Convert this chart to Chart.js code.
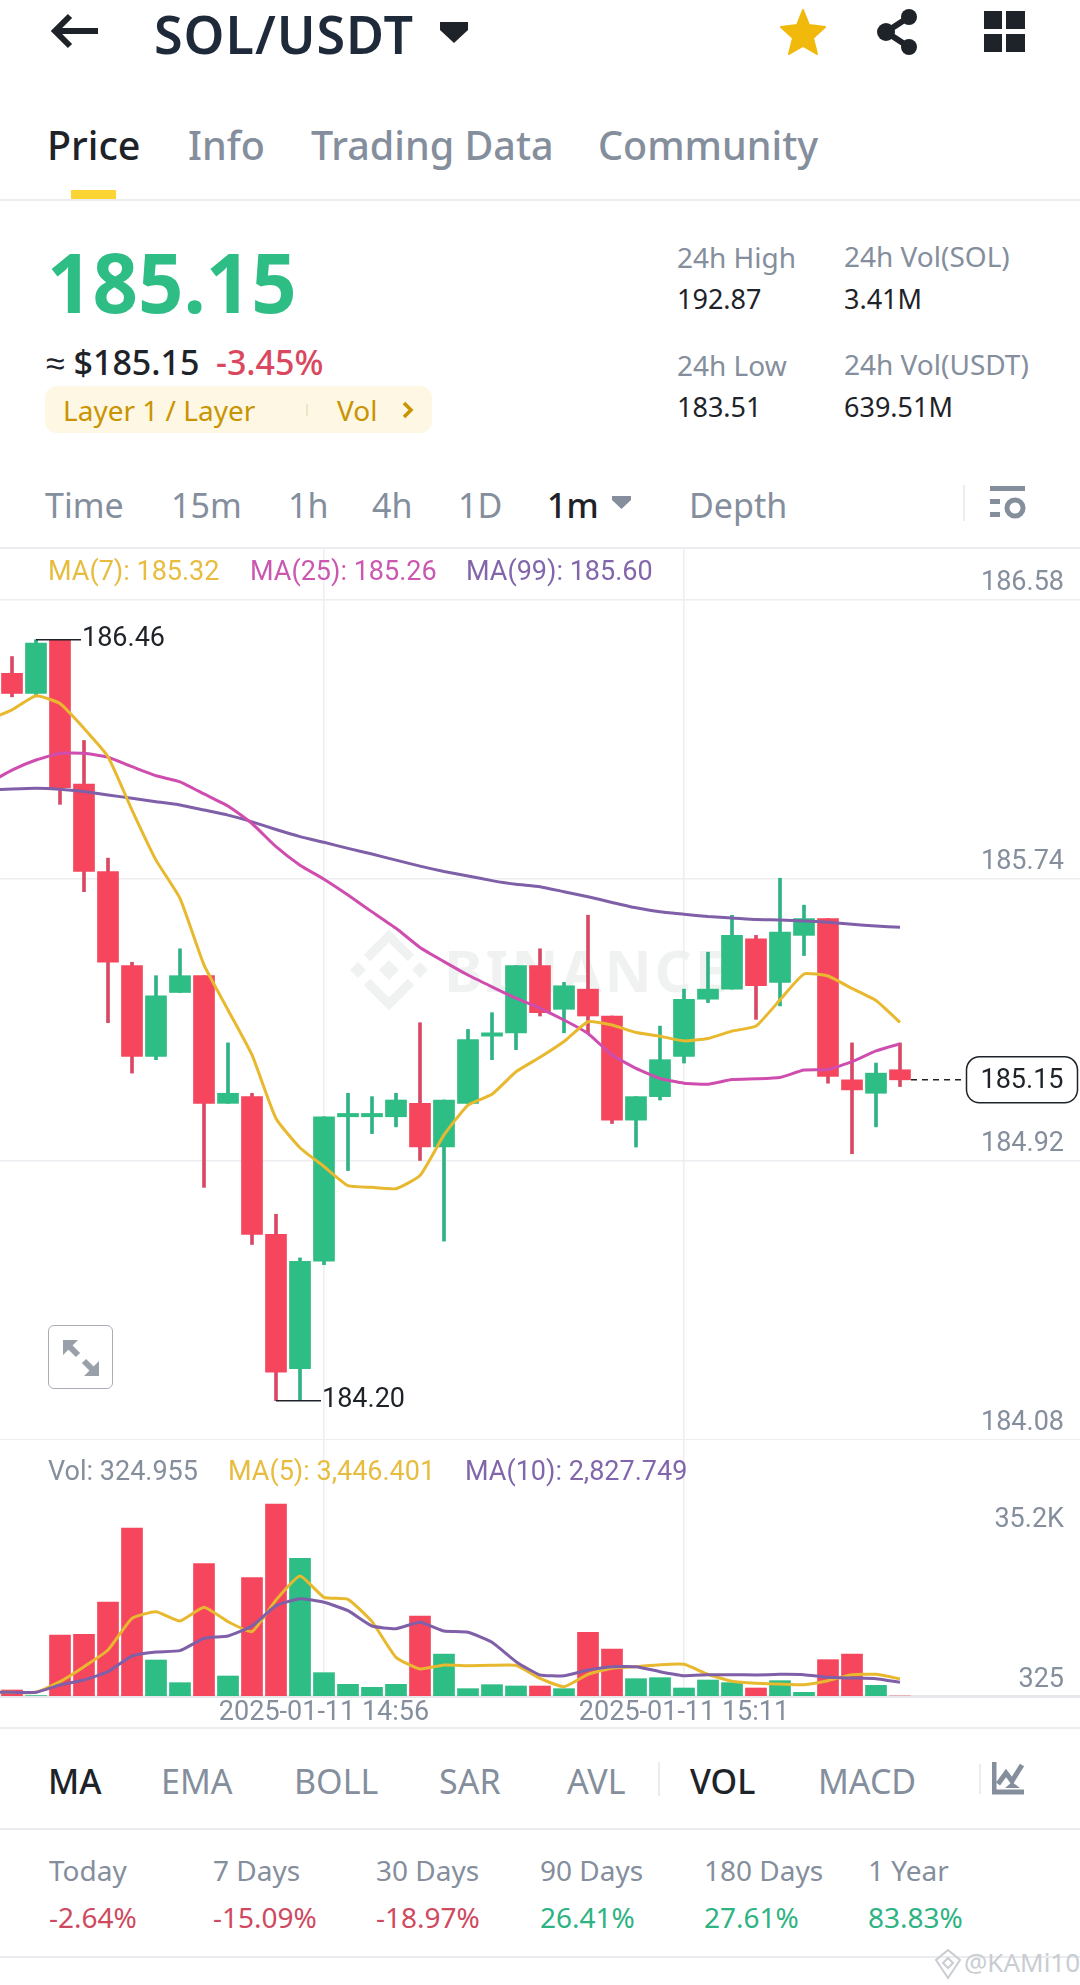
<!DOCTYPE html>
<html>
<head>
<meta charset="utf-8">
<style>
html, body { margin: 0; padding: 0; background: #fff; }
#page { position: relative; width: 1080px; height: 1985px; overflow: hidden; font-family: "Noto Sans", sans-serif; color: #1E2329; }
.t { position: absolute; white-space: nowrap; line-height: 1; transform: translateY(-50%); }
.g { color: #848E9C; }
.tab { font-size: 39.5px; font-weight: 500; top: 146px; }
.range { font-size: 34px; top: 505px; color: #848E9C; }
.tool { font-size: 34px; top: 1781px; color: #848E9C; }
.stat { font-size: 28px; color: #848E9C; }
.num { font-size: 27px; }
.per { font-size: 28px; top: 1870px; color: #848E9C; }
.val { font-size: 28px; top: 1917px; }
.rd { color: #CF4A60; }
.gr { color: #2EB383; }
.leg { font-family: Roboto, sans-serif; font-size: 27px; }
.line { position: absolute; left: 0; width: 1080px; height: 2px; background: #EAECEF; }
canvas { position: absolute; }
svg { position: absolute; }
#mark { position: absolute; left: 350px; top: 930px; }
#markText { position: absolute; left: 444px; top: 970px; transform: translateY(-50%); font: 700 58px "Noto Sans", sans-serif; letter-spacing: 3px; color: #F0F2F2; line-height: 1; }
</style>
</head>
<body>
<div id="page">
  <!-- header -->
  <svg style="left:50px;top:12px" width="50" height="38" viewBox="0 0 50 38"><path d="M48 19H6M20 4 5 19l15 15" fill="none" stroke="#1E2329" stroke-width="6"/></svg>
  <div class="t" style="left:154px;top:34px;font-size:52px;font-weight:600;letter-spacing:1px;color:#1E2A3A">SOL/USDT</div>
  <svg style="left:440px;top:22px" width="28" height="21"><path d="M0 0H28V8L14 21 0 8Z" fill="#1E2329"/></svg>
  <svg style="left:780px;top:8px" width="46" height="48" viewBox="0 0 46 48"><path d="M23 2 29 17 45 19 33 30 37 46 23 38 9 46 13 30 1 19 17 17Z" fill="#F0B90B" stroke="#F0B90B" stroke-linejoin="round" stroke-width="2"/></svg>
  <svg style="left:876px;top:8px" width="46" height="48"><path d="M33 9 10 24 33 39" fill="none" stroke="#1E2329" stroke-width="6"/><circle cx="33" cy="9" r="8" fill="#1E2329"/><circle cx="10" cy="24" r="9" fill="#1E2329"/><circle cx="33" cy="39" r="8" fill="#1E2329"/></svg>
  <svg style="left:984px;top:11px" width="41" height="41"><path d="M0 0H18V18H0ZM22 0H41V18H22ZM0 23H18V41H0ZM22 23H41V41H22Z" fill="#1E2329"/></svg>

  <!-- tabs -->
  <div class="t tab" style="left:47px">Price</div>
  <div class="t tab g" style="left:188px">Info</div>
  <div class="t tab g" style="left:311px">Trading Data</div>
  <div class="t tab g" style="left:598px">Community</div>
  <div style="position:absolute;left:71px;top:190px;width:45px;height:9px;background:#FCD535"></div>
  <div class="line" style="top:199px"></div>

  <!-- price block -->
  <div class="t" style="left:47px;top:281px;font-size:82px;font-weight:700;color:#2EBD85;transform:translateY(-50%) scaleX(.97);transform-origin:left center">185.15</div>
  <div class="t" style="left:46px;top:362px;font-size:34px;font-weight:500">≈ $185.15</div>
  <div class="t" style="left:216px;top:362px;font-size:34px;font-weight:500;color:#D9485F">-3.45%</div>
  <div style="position:absolute;left:45px;top:386px;width:387px;height:47px;background:#FDF7E4;border-radius:12px"></div>
  <div class="t" style="left:63px;top:410px;font-size:28px;color:#C99400">Layer 1 / Layer</div>
  <div style="position:absolute;left:306px;top:404px;width:2px;height:12px;background:#EFE6C8"></div>
  <div class="t" style="left:337px;top:410px;font-size:28px;color:#C99400">Vol</div>
  <svg style="left:402px;top:401px" width="12" height="18"><path d="M2 2 9 9 2 16" fill="none" stroke="#C99400" stroke-width="3.5"/></svg>

  <div class="t stat" style="left:677px;top:257px">24h High</div>
  <div class="t stat" style="left:844px;top:256px">24h Vol(SOL)</div>
  <div class="t num" style="left:677px;top:298px">192.87</div>
  <div class="t num" style="left:844px;top:298px">3.41M</div>
  <div class="t stat" style="left:677px;top:365px">24h Low</div>
  <div class="t stat" style="left:844px;top:364px">24h Vol(USDT)</div>
  <div class="t num" style="left:677px;top:406px">183.51</div>
  <div class="t num" style="left:844px;top:406px">639.51M</div>

  <!-- interval row -->
  <div class="t range" style="left:45px">Time</div>
  <div class="t range" style="left:171px">15m</div>
  <div class="t range" style="left:288px">1h</div>
  <div class="t range" style="left:372px">4h</div>
  <div class="t range" style="left:458px">1D</div>
  <div class="t range" style="left:547px;color:#1E2329;font-weight:500">1m</div>
  <svg style="left:612px;top:496px" width="19" height="13"><path d="M0 0H19V4L9.5 13 0 4Z" fill="#848E9C"/></svg>
  <div class="t range" style="left:689px">Depth</div>
  <div style="position:absolute;left:963px;top:485px;width:2px;height:36px;background:#EAECEF"></div>
  <svg style="left:989px;top:485px" width="38" height="37"><path d="M1 1H36V6H1ZM1 14H11V19H1ZM1 27H11V32H1Z" fill="#848E9C"/><circle cx="26" cy="23" r="8" fill="none" stroke="#848E9C" stroke-width="5"/></svg>
  <div class="line" style="top:547px"></div>

  <!-- chart area -->
  <svg id="mark" width="78" height="80" viewBox="0 0 78 80"><g fill="none" stroke="#F0F2F2" stroke-width="9"><path d="M17 28 39 6 61 28M17 52 39 74 61 52"/></g><path d="M39 30 49 40 39 50 29 40ZM8 32 16 40 8 48 0 40ZM70 32 78 40 70 48 62 40Z" fill="#F0F2F2"/></svg>
  <div id="markText">BINANCE</div>
  <canvas id="priceChart" width="1104" height="892" style="left:-23.6px;top:548px"></canvas>
  <canvas id="volChart" width="1104" height="288" style="left:-23.6px;top:1440px"></canvas>

  <div class="t leg" style="left:48px;top:571px;color:#E7BC3F">MA(7): 185.32</div>
  <div class="t leg" style="left:250px;top:571px;color:#CB58B0">MA(25): 185.26</div>
  <div class="t leg" style="left:466px;top:571px;color:#8266AB">MA(99): 185.60</div>
  <div class="t leg" style="left:48px;top:1471px;color:#848E9C">Vol: 324.955</div>
  <div class="t leg" style="left:228px;top:1471px;color:#E7BC3F">MA(5): 3,446.401</div>
  <div class="t leg" style="left:465px;top:1471px;color:#8266AB">MA(10): 2,827.749</div>

  <div style="position:absolute;left:48px;top:1325px;width:63px;height:62px;border:1.5px solid #A9AEB6;border-radius:6px;background:#fff"></div>
  <svg style="left:62px;top:1339px" width="38" height="38"><path d="M1 1H16L1 16ZM37 37H22L37 22Z" fill="#9AA0AA"/><path d="M7 7 16 16M31 31 22 22" stroke="#9AA0AA" stroke-width="6" fill="none"/></svg>

  <div class="line" style="top:1727px"></div>

  <!-- indicators row -->
  <div class="t tool" style="left:48px;color:#1E2329;font-weight:500">MA</div>
  <div class="t tool" style="left:161px">EMA</div>
  <div class="t tool" style="left:294px">BOLL</div>
  <div class="t tool" style="left:439px">SAR</div>
  <div class="t tool" style="left:567px">AVL</div>
  <div style="position:absolute;left:658px;top:1762px;width:2px;height:34px;background:#EAECEF"></div>
  <div class="t tool" style="left:690px;color:#1E2329;font-weight:500">VOL</div>
  <div class="t tool" style="left:818px">MACD</div>
  <div style="position:absolute;left:979px;top:1764px;width:2px;height:30px;background:#EAECEF"></div>
  <svg style="left:992px;top:1762px" width="33" height="34"><path d="M2 0V30H32" fill="none" stroke="#848E9C" stroke-width="5"/><path d="M6 22 14 11 20 19 30 3" fill="none" stroke="#848E9C" stroke-width="5"/><path d="M13 26H28L20 20Z" fill="#848E9C"/></svg>
  <div class="line" style="top:1828px"></div>

  <!-- period changes -->
  <div class="t per" style="left:49px">Today</div>
  <div class="t per" style="left:213px">7 Days</div>
  <div class="t per" style="left:376px">30 Days</div>
  <div class="t per" style="left:540px">90 Days</div>
  <div class="t per" style="left:704px">180 Days</div>
  <div class="t per" style="left:868px">1 Year</div>
  <div class="t val rd" style="left:49px">-2.64%</div>
  <div class="t val rd" style="left:213px">-15.09%</div>
  <div class="t val rd" style="left:376px">-18.97%</div>
  <div class="t val gr" style="left:540px">26.41%</div>
  <div class="t val gr" style="left:704px">27.61%</div>
  <div class="t val gr" style="left:868px">83.83%</div>
  <div class="line" style="top:1956px"></div>
  <svg style="left:934px;top:1948px" width="28" height="32"><path d="M14 2 26 12 14 30 2 12ZM14 10 19 15 14 20 9 15Z" fill="none" stroke="#C9CDD2" stroke-width="2"/></svg>
  <div class="t" style="left:964px;top:1962px;font-size:26px;color:#C9CDD2">@KAMi10</div>
</div>

<script src="https://cdn.jsdelivr.net/npm/chart.js@4/dist/chart.umd.min.js"></script>
<script>
// one minute per candle, first slot sits just off the left edge
const minutes = ['14:42','14:43','14:44','14:45','14:46','14:47','14:48','14:49','14:50','14:51','14:52','14:53','14:54','14:55','14:56','14:57','14:58','14:59','15:00','15:01','15:02','15:03','15:04','15:05','15:06','15:07','15:08','15:09','15:10','15:11','15:12','15:13','15:14','15:15','15:16','15:17','15:18','15:19','15:20','','','','','','',''];
const labeledMinutes = ['14:56', '15:11'];
const datePrefix = '2025-01-11 ';

const opens = [null,186.36,186.30,186.46,186.03,185.77,185.49,185.22,185.41,185.46,185.08,185.10,184.69,184.29,184.61,185.04,185.04,185.04,185.08,184.95,185.08,185.28,185.29,185.49,185.36,185.42,185.34,185.03,185.10,185.22,185.39,185.42,185.57,185.44,185.58,185.63,185.15,185.11,185.18];
const closes = [null,186.30,186.45,186.02,185.77,185.50,185.22,185.40,185.46,185.08,185.11,184.69,184.28,184.61,185.04,185.05,185.05,185.09,184.95,185.09,185.27,185.29,185.49,185.35,185.43,185.34,185.03,185.10,185.21,185.39,185.42,185.58,185.43,185.59,185.63,185.16,185.12,185.17,185.15];
const highs = [null,186.41,186.46,186.46,186.16,185.81,185.50,185.46,185.54,185.46,185.26,185.11,184.75,184.62,185.04,185.11,185.10,185.11,185.32,185.09,185.30,185.35,185.49,185.54,185.44,185.64,185.34,185.10,185.31,185.42,185.53,185.64,185.58,185.75,185.67,185.63,185.26,185.20,185.26];
const lows = [null,186.29,186.29,185.97,185.71,185.32,185.17,185.21,185.41,184.83,185.08,184.66,184.195,184.195,184.60,184.88,184.99,185.01,184.91,184.67,185.08,185.21,185.24,185.34,185.29,185.29,185.02,184.95,185.09,185.20,185.38,185.42,185.33,185.37,185.52,185.14,184.93,185.01,185.13];

const ma7 = [186.221,186.251,186.293,186.27,186.196,186.112,185.953,185.804,185.69,185.492,185.358,185.224,185.035,184.948,184.892,184.835,184.83,184.826,184.865,184.986,185.075,185.107,185.174,185.217,185.264,185.323,185.313,185.291,185.28,185.266,185.273,185.295,185.31,185.388,185.465,185.459,185.422,185.386,185.321];
const ma25 = [186.032,186.072,186.102,186.122,186.122,186.11,186.082,186.055,186.037,186.001,185.965,185.913,185.844,185.789,185.747,185.70,185.65,185.601,185.544,185.502,185.462,185.427,185.393,185.363,185.328,185.288,185.224,185.184,185.154,185.14,185.137,185.151,185.153,185.157,185.179,185.181,185.204,185.236,185.257];
const ma99 = [186.013,186.016,186.018,186.015,186.008,185.998,185.988,185.978,185.968,185.953,185.938,185.918,185.895,185.874,185.857,185.839,185.822,185.804,185.786,185.77,185.757,185.743,185.732,185.725,185.71,185.695,185.678,185.662,185.65,185.643,185.636,185.632,185.627,185.626,185.623,185.619,185.613,185.608,185.604];

const volumes = [null,1415,400,11406,11527,17400,30842,6864,2747,24363,3958,21820,35200,25332,4564,2444,1899,2444,14857,7954,1657,2384,2142,2142,1657,11890,8863,3474,3655,1778,3231,2747,1778,3110,991,6925,7954,2263,324.955];
const volMa5 = [991,991,991,2929,5653,8681,14433,15644,13949,16431,13828,12011,17763,22123,18248,17885,13828,7349,5230,5956,5835,5896,5896,3534,2020,4261,5351,5653,6017,6077,4261,2989,2626,2505,2384,3110,4200,4261,3446.401];
const volMa10 = [991,991,991,2323,3231,4745,7591,8318,8560,10800,11224,13041,16734,18006,17340,15826,13041,12556,13707,12132,11890,10074,6562,4140,4019,5048,5653,5653,4745,4019,4200,4200,4140,4261,4200,3716,3595,3474,2827.749];

const priceTickValues = [184.08, 184.91, 185.75, 186.58];
const priceTickLabels = ['184.08', '184.92', '185.74', '186.58'];
const lastPrice = 185.15;
const highMark = { minute: '14:44', price: 186.46, text: '186.46' };
const lowMark = { minute: '14:54', price: 184.195, text: '184.20' };

const RED = '#F6465D', GREEN = '#2EBD85', RED_WICK = '#D64A64', GREEN_WICK = '#2EB383';
const GRID = '#EDEEF1', TICK = '#848E9C', INK = '#1E2329';
const tickFont = { family: 'Roboto', size: 27 };

const isUp = (i) => closes[i] >= opens[i];
const candleColors = (up, down) => minutes.map((m, i) => opens[i] == null ? up : (isUp(i) ? up : down));
const noPad = (s) => { s.paddingTop = 0; s.paddingBottom = 0; s.paddingLeft = 0; s.paddingRight = 0; };
const flatY = (s) => { noPad(s); s.width = 0; };

const maLine = (label, data, color, order, yAxisID) => ({
  type: 'line', label, data, borderColor: color, borderWidth: 3, pointRadius: 0, tension: 0.15,
  borderJoinStyle: 'round', order, yAxisID, spanGaps: true
});

const xAxis = (showLabels) => ({
  type: 'category',
  offset: true,
  grid: { offset: false, color: GRID, lineWidth: 1.5, drawTicks: false },
  border: { display: false },
  afterBuildTicks: (s) => {
    s.ticks = labeledMinutes.map(m => ({ value: minutes.indexOf(m) }));
  },
  afterFit: (s) => { noPad(s); s.height = showLabels ? 32 : 0; },
  ticks: {
    display: showLabels, autoSkip: false, maxRotation: 0, padding: 1, color: TICK, font: tickFont,
    callback: function (v) { return datePrefix + this.getLabelForValue(v); }
  }
});

// high / low leaders and the last price tag
const priceMarks = {
  id: 'priceMarks',
  afterDatasetsDraw(chart) {
    const { ctx, scales: { x, y } } = chart;
    ctx.save();
    ctx.font = '27px Roboto';
    ctx.textBaseline = 'middle';
    ctx.fillStyle = INK;
    ctx.strokeStyle = INK;
    ctx.lineWidth = 1.5;
    [highMark, lowMark].forEach(m => {
      const px = x.getPixelForValue(minutes.indexOf(m.minute));
      const py = y.getPixelForValue(m.price);
      ctx.beginPath(); ctx.moveTo(px, py); ctx.lineTo(px + 45, py); ctx.stroke();
      ctx.fillText(m.text, px + 46, py);
    });
    const last = x.getPixelForValue(minutes.indexOf('15:20'));
    const py = y.getPixelForValue(lastPrice);
    ctx.setLineDash([6, 5]);
    ctx.beginPath(); ctx.moveTo(last + 11, py); ctx.lineTo(x.right - 114, py); ctx.stroke();
    ctx.setLineDash([]);
    ctx.beginPath();
    ctx.roundRect(x.right - 113.5, py - 23, 111, 46, 13);
    ctx.fillStyle = '#fff';
    ctx.fill();
    ctx.stroke();
    ctx.fillStyle = INK;
    ctx.textAlign = 'center';
    ctx.fillText(lastPrice.toFixed(2), x.right - 58, py + 1);
    ctx.restore();
  }
};

new Chart(document.getElementById('priceChart'), {
  type: 'bar',
  data: {
    labels: minutes,
    datasets: [
      maLine('MA(7)', ma7, '#E8B82E', 0, 'y'),
      maLine('MA(25)', ma25, '#CF4DAE', 1, 'y'),
      maLine('MA(99)', ma99, '#7E5FA8', 2, 'y'),
      { label: 'body', data: opens.map((o, i) => o == null ? null : [o, closes[i]]), grouped: false, barThickness: 21, backgroundColor: candleColors(GREEN, RED), order: 3 },
      { label: 'wick', data: lows.map((l, i) => l == null ? null : [l, highs[i]]), grouped: false, barThickness: 3, backgroundColor: candleColors(GREEN_WICK, RED_WICK), order: 4 }
    ]
  },
  options: {
    responsive: false, animation: false, events: [],
    layout: { padding: 0 },
    plugins: { legend: { display: false }, tooltip: { enabled: false } },
    scales: {
      x: xAxis(false),
      y: {
        position: 'right', min: 184.078, max: 186.733,
        grid: { color: GRID, lineWidth: 1.5, drawTicks: false },
        border: { display: false },
        afterBuildTicks: (s) => { s.ticks = priceTickValues.map(value => ({ value })); },
        afterFit: flatY,
        ticks: { mirror: true, padding: -16, labelOffset: -16, color: TICK, font: tickFont, callback: (v, i) => priceTickLabels[i] }
      }
    }
  },
  plugins: [priceMarks]
});

const volAxis = (tickValue, tickLabel, offset, gridOn) => ({
  position: 'right', min: 325, max: 46827,
  grid: { display: gridOn, color: '#E6E8EB', lineWidth: 3, drawTicks: false },
  border: { display: false },
  afterBuildTicks: (s) => { s.ticks = [{ value: tickValue }]; },
  afterFit: flatY,
  ticks: { mirror: true, padding: -16, labelOffset: offset, color: TICK, font: tickFont, callback: () => tickLabel }
});

new Chart(document.getElementById('volChart'), {
  type: 'bar',
  data: {
    labels: minutes,
    datasets: [
      maLine('MA(5)', volMa5, '#E8B82E', 1, 'y'),
      maLine('MA(10)', volMa10, '#7E5FA8', 0, 'y'),
      { label: 'Vol', data: volumes, grouped: false, barThickness: 21, backgroundColor: candleColors(GREEN, RED), order: 2, yAxisID: 'y' }
    ]
  },
  options: {
    responsive: false, animation: false, events: [],
    layout: { padding: 0 },
    plugins: { legend: { display: false }, tooltip: { enabled: false } },
    scales: {
      x: xAxis(true),
      y: volAxis(35200, '35.2K', 16, false),
      yLow: volAxis(325, '325', -16, true)
    }
  }
});
</script>
</body>
</html>
